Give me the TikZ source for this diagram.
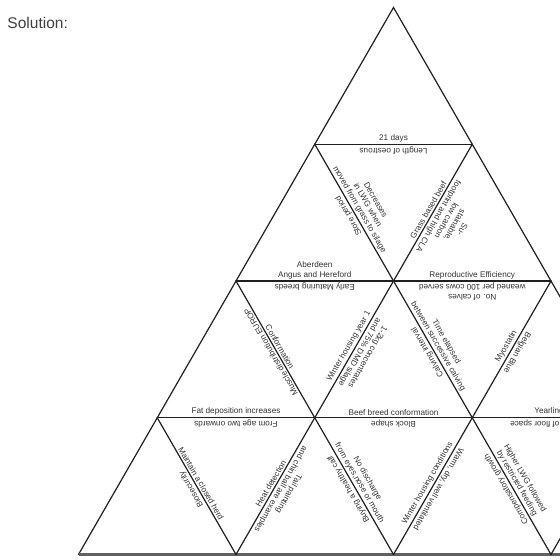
\documentclass[tikz,border=0pt]{standalone}
\usepackage{fontspec}
\setmainfont{Liberation Sans}
\usetikzlibrary{calc}
\begin{document}
\begin{tikzpicture}[x=1pt,y=-1pt,
  edge/.style={draw=black!88, line width=1.2pt, line cap=round},
  baseedge/.style={draw=black!62, line width=2.2pt},
  lbl/.style={font=\fontsize{8.2}{9.2}\selectfont, text=black!80, anchor=south, inner sep=2pt, align=center},
  title/.style={font=\fontsize{15.5}{18}\selectfont, text=black!75, anchor=base west, inner sep=0pt}
]
\useasboundingbox (0,0) rectangle (560,560);
\fill[white] (0,0) rectangle (560,560);
\clip (0,0) rectangle (560,560);
\foreach \r in {0,...,4}{
  \foreach \k in {0,...,\r}{
    \coordinate (v\r\k) at ({393.5+(\k-\r/2)*157.5},{7.5+\r*136.75});
  }
}
\node[title] (sol) at (7.3,28) {Solution:};
% outline
\draw[edge] (v40) -- (v00) -- (v44);
\draw[baseedge] (v40) -- (v44);
% horizontals
\draw[edge] (v10) -- (v11);
\draw[edge] (v20) -- (v22);
\draw[edge] (v30) -- (v33);
% slanted /
\draw[edge] (v11) -- (v41);
\draw[edge] (v22) -- (v42);
\draw[edge] (v33) -- (v43);
% slanted \
\draw[edge] (v10) -- (v43);
\draw[edge] (v20) -- (v42);
\draw[edge] (v30) -- (v41);
% row 1 / row 2
\node[lbl, rotate=0]   (t1) at ($(v10)!0.5!(v11)$) {21 days};
\node[lbl, rotate=180] (t2) at ($(v10)!0.5!(v11)$) {Length of oestrous};
\node[lbl, rotate=-60] (t3) at ($(v10)!0.5!(v21)$) {Decreases\\in LWG when\\moved from grass to silage};
\node[lbl, rotate=120] (t4) at ($(v10)!0.5!(v21)$) {Store period};
\node[lbl, rotate=60]  (t5) at ($(v11)!0.5!(v21)$) {Grass based beef};
\node[lbl, rotate=240] (t6) at ($(v11)!0.5!(v21)$) {Su-\\stainable,\\low carbon\\footprint and high CLA};
% row 2 / row 3
\node[lbl, rotate=0]   (t7) at ($(v20)!0.5!(v21)$) {Aberdeen\\Angus and Hereford};
\node[lbl, rotate=180] (t8) at ($(v20)!0.5!(v21)$) {Early Maturing breeds};
\node[lbl, rotate=0]   (t9) at ($(v21)!0.5!(v22)$) {Reproductive Efficiency};
\node[lbl, rotate=180] (t10) at ($(v21)!0.5!(v22)$) {No. of calves\\weaned per 100 cows served};
\node[lbl, rotate=-60] (t11) at ($(v20)!0.5!(v31)$) {Conformation};
\node[lbl, rotate=120] (t12) at ($(v20)!0.5!(v31)$) {Muscle distribution EUROP};
\node[lbl, rotate=60]  (t13) at ($(v21)!0.5!(v31)$) {Winter housing year 1};
\node[lbl, rotate=240] (t14) at ($(v21)!0.5!(v31)$) {1-2kg concentrates\\and 75\% DMD silage};
\node[lbl, rotate=-60] (t15) at ($(v21)!0.5!(v32)$) {Time elapsed\\between successive calving};
\node[lbl, rotate=120] (t16) at ($(v21)!0.5!(v32)$) {Calving interval};
\node[lbl, rotate=60]  (t17) at ($(v22)!0.5!(v32)$) {Myostatin};
\node[lbl, rotate=240] (t18) at ($(v22)!0.5!(v32)$) {Belgian Blue};
% row 3 / row 4
\node[lbl, rotate=0]   (t19) at ($(v30)!0.5!(v31)$) {Fat deposition increases};
\node[lbl, rotate=180] (t20) at ($(v30)!0.5!(v31)$) {From age two onwards};
\node[lbl, rotate=0]   (t21) at ($(v31)!0.5!(v32)$) {Beef breed conformation};
\node[lbl, rotate=180] (t22) at ($(v31)!0.5!(v32)$) {Block shape};
\node[lbl, rotate=0]   (t23) at ($(v32)!0.5!(v33)$) {Yearlings};
\node[lbl, rotate=180] (t24) at ($(v32)!0.5!(v33)$) {2.5–3m² of floor space};
\node[lbl, rotate=-60] (t25) at ($(v30)!0.5!(v41)$) {Maintain a closed herd};
\node[lbl, rotate=120] (t26) at ($(v30)!0.5!(v41)$) {Biosecurity};
\node[lbl, rotate=60]  (t27) at ($(v31)!0.5!(v41)$) {Heat detection};
\node[lbl, rotate=240] (t28) at ($(v31)!0.5!(v41)$) {Tail painting\\and chin ball are examples};
\node[lbl, rotate=-60] (t29) at ($(v31)!0.5!(v42)$) {No discharge\\from eyes,nose or mouth};
\node[lbl, rotate=120] (t30) at ($(v31)!0.5!(v42)$) {Buying a healthy calf};
\node[lbl, rotate=60]  (t31) at ($(v32)!0.5!(v42)$) {Winter housing conditions};
\node[lbl, rotate=240] (t32) at ($(v32)!0.5!(v42)$) {Warm, dry, well ventilated};
\node[lbl, rotate=-60] (t33) at ($(v32)!0.5!(v43)$) {Higher LWG followed\\by restricted feeding};
\node[lbl, rotate=120] (t34) at ($(v32)!0.5!(v43)$) {Compensatory growth};
\end{tikzpicture}
\end{document}
